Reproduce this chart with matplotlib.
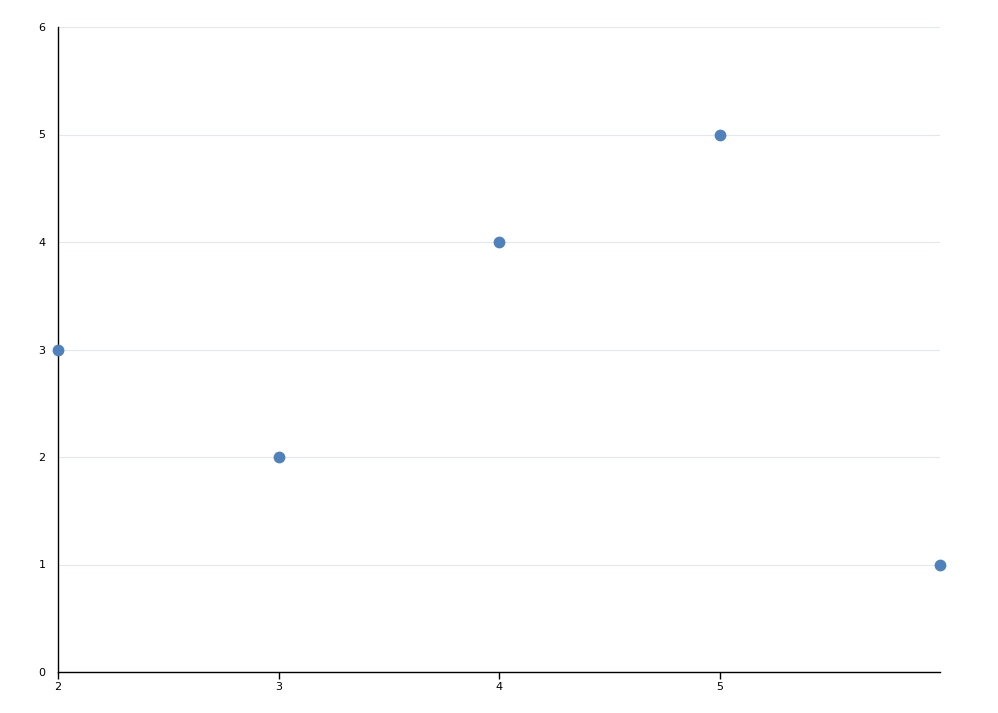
import matplotlib
matplotlib.use("Agg")
import matplotlib.pyplot as plt

x_vals = [2, 3, 4, 5, 6]
y_vals = [3, 2, 4, 5, 1]
x_ticks = [2, 3, 4, 5]
y_ticks = [0, 1, 2, 3, 4, 5, 6]

POINT_COLOR = "#4f81bd"
GRID_COLOR = "#e2e7f0"

fig = plt.figure(figsize=(9.98, 7.13), dpi=100)
ax = fig.add_axes([58 / 998, 1 - 672 / 713, 882 / 998, 645 / 713])

ax.scatter(x_vals, y_vals, s=72, color=POINT_COLOR, zorder=3, clip_on=False,
           linewidths=0)

ax.set_xlim(2, 6)
ax.set_ylim(0, 6)
ax.set_xticks(x_ticks)
ax.set_yticks(y_ticks)
ax.grid(axis="y", color=GRID_COLOR, linewidth=0.8)
ax.set_axisbelow(True)

for side in ("top", "right"):
    ax.spines[side].set_visible(False)
ax.spines["left"].set_linewidth(1.0)
ax.spines["bottom"].set_linewidth(1.0)
ax.tick_params(axis="x", length=5, width=1, labelsize=8, pad=2)
ax.tick_params(axis="y", length=0, labelsize=8, pad=9)

fig.savefig("out.png", dpi=100)
